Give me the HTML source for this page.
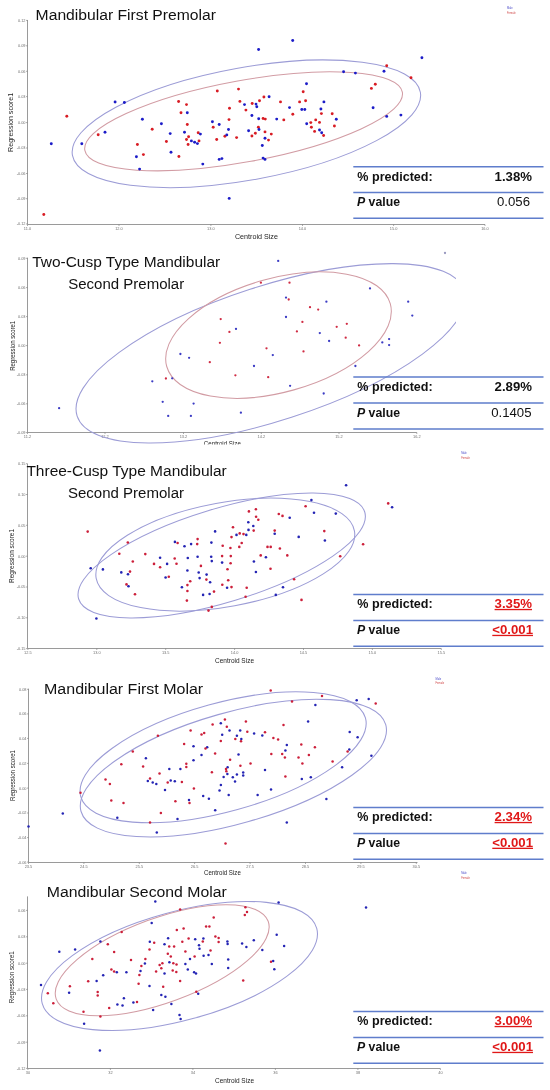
<!DOCTYPE html>
<html><head><meta charset="utf-8"><title>Regression plots</title>
<style>html,body{margin:0;padding:0;background:#fff;}body{width:550px;height:1090px;overflow:hidden;}svg{display:block;}</style>
</head><body>
<svg width="550" height="1090" viewBox="0 0 550 1090" font-family="'Liberation Sans', Arial, sans-serif">
<path d="M27.5 20V224.5M27.5 224.5H485" stroke="#9a9a9a" stroke-width="1" fill="none"/>
<path d="M26.0 20.4h1.5M26.0 45.8h1.5M26.0 71.3h1.5M26.0 96.6h1.5M26.0 122.6h1.5M26.0 148h1.5M26.0 173.5h1.5M26.0 198.7h1.5M26.0 224h1.5M27.5 224.5v1.5M119 224.5v1.5M210.9 224.5v1.5M302.5 224.5v1.5M393.6 224.5v1.5M485 224.5v1.5" stroke="#777" stroke-width="0.6" fill="none"/>
<text x="25.5" y="21.8" font-size="3.9" fill="#707070" text-anchor="end">0.12</text>
<text x="25.5" y="47.2" font-size="3.9" fill="#707070" text-anchor="end">0.09</text>
<text x="25.5" y="72.7" font-size="3.9" fill="#707070" text-anchor="end">0.06</text>
<text x="25.5" y="98.0" font-size="3.9" fill="#707070" text-anchor="end">0.03</text>
<text x="25.5" y="124.0" font-size="3.9" fill="#707070" text-anchor="end">0.00</text>
<text x="25.5" y="149.4" font-size="3.9" fill="#707070" text-anchor="end">-0.03</text>
<text x="25.5" y="174.9" font-size="3.9" fill="#707070" text-anchor="end">-0.06</text>
<text x="25.5" y="200.1" font-size="3.9" fill="#707070" text-anchor="end">-0.09</text>
<text x="25.5" y="225.4" font-size="3.9" fill="#707070" text-anchor="end">-0.12</text>
<text x="27.5" y="230.1" font-size="3.9" fill="#707070" text-anchor="middle">11.0</text>
<text x="119.0" y="230.1" font-size="3.9" fill="#707070" text-anchor="middle">12.0</text>
<text x="210.9" y="230.1" font-size="3.9" fill="#707070" text-anchor="middle">13.0</text>
<text x="302.5" y="230.1" font-size="3.9" fill="#707070" text-anchor="middle">14.0</text>
<text x="393.6" y="230.1" font-size="3.9" fill="#707070" text-anchor="middle">15.0</text>
<text x="485.0" y="230.1" font-size="3.9" fill="#707070" text-anchor="middle">16.0</text>
<text x="0" y="0" font-size="8" fill="#222" text-anchor="middle" textLength="59" lengthAdjust="spacingAndGlyphs" transform="translate(12.8 122.4) rotate(-90)">Regression score1</text>
<text x="234.9" y="239.4" font-size="7" fill="#222" textLength="43.0" lengthAdjust="spacingAndGlyphs">Centroid Size</text>
<text x="507.0" y="9.0" font-size="2.6" fill="#4848c8">Male</text>
<text x="507.0" y="13.9" font-size="2.6" fill="#d04848">Female</text>
<ellipse cx="246.4" cy="123.8" rx="176.8" ry="56.3" transform="rotate(-10.28 246.4 123.8)" stroke="#9c9cd6" stroke-width="1.05" fill="none"/>
<ellipse cx="243.6" cy="121.3" rx="161.4" ry="40.7" transform="rotate(-10.39 243.6 121.3)" stroke="#d29ca4" stroke-width="1.05" fill="none"/>
<circle cx="115.1" cy="102.0" r="1.45" fill="#1c1cc8"/>
<circle cx="124.4" cy="102.5" r="1.45" fill="#1c1cc8"/>
<circle cx="66.8" cy="116.2" r="1.45" fill="#d81c24"/>
<circle cx="142.4" cy="119.2" r="1.45" fill="#1c1cc8"/>
<circle cx="161.4" cy="123.8" r="1.45" fill="#1c1cc8"/>
<circle cx="178.6" cy="101.5" r="1.45" fill="#d81c24"/>
<circle cx="98.2" cy="134.7" r="1.45" fill="#d81c24"/>
<circle cx="105.0" cy="132.3" r="1.45" fill="#1c1cc8"/>
<circle cx="152.2" cy="129.3" r="1.45" fill="#d81c24"/>
<circle cx="170.2" cy="133.6" r="1.45" fill="#1c1cc8"/>
<circle cx="51.3" cy="143.7" r="1.45" fill="#1c1cc8"/>
<circle cx="81.8" cy="143.7" r="1.45" fill="#1c1cc8"/>
<circle cx="166.4" cy="141.5" r="1.45" fill="#d81c24"/>
<circle cx="137.4" cy="144.5" r="1.45" fill="#d81c24"/>
<circle cx="136.4" cy="156.8" r="1.45" fill="#1c1cc8"/>
<circle cx="143.4" cy="154.6" r="1.45" fill="#d81c24"/>
<circle cx="171.0" cy="152.2" r="1.45" fill="#1c1cc8"/>
<circle cx="178.9" cy="156.5" r="1.45" fill="#d81c24"/>
<circle cx="139.6" cy="169.1" r="1.45" fill="#1c1cc8"/>
<circle cx="43.8" cy="214.5" r="1.45" fill="#d81c24"/>
<circle cx="217.3" cy="91.0" r="1.45" fill="#d81c24"/>
<circle cx="238.5" cy="89.1" r="1.45" fill="#d81c24"/>
<circle cx="303.2" cy="91.8" r="1.45" fill="#d81c24"/>
<circle cx="186.5" cy="104.6" r="1.45" fill="#d81c24"/>
<circle cx="187.3" cy="112.8" r="1.45" fill="#1c1cc8"/>
<circle cx="181.0" cy="112.8" r="1.45" fill="#d81c24"/>
<circle cx="187.3" cy="124.5" r="1.45" fill="#d81c24"/>
<circle cx="184.5" cy="132.2" r="1.45" fill="#1c1cc8"/>
<circle cx="188.6" cy="136.8" r="1.45" fill="#d81c24"/>
<circle cx="198.2" cy="132.7" r="1.45" fill="#d81c24"/>
<circle cx="200.4" cy="134.1" r="1.45" fill="#1c1cc8"/>
<circle cx="186.5" cy="139.5" r="1.45" fill="#d81c24"/>
<circle cx="191.4" cy="140.9" r="1.45" fill="#1c1cc8"/>
<circle cx="194.6" cy="142.3" r="1.45" fill="#1c1cc8"/>
<circle cx="197.4" cy="143.6" r="1.45" fill="#1c1cc8"/>
<circle cx="199.0" cy="140.9" r="1.45" fill="#d81c24"/>
<circle cx="188.1" cy="144.5" r="1.45" fill="#d81c24"/>
<circle cx="202.8" cy="164.1" r="1.45" fill="#1c1cc8"/>
<circle cx="212.4" cy="121.8" r="1.45" fill="#1c1cc8"/>
<circle cx="219.2" cy="124.5" r="1.45" fill="#1c1cc8"/>
<circle cx="213.2" cy="127.3" r="1.45" fill="#d81c24"/>
<circle cx="229.5" cy="108.2" r="1.45" fill="#d81c24"/>
<circle cx="239.9" cy="101.4" r="1.45" fill="#d81c24"/>
<circle cx="244.5" cy="104.6" r="1.45" fill="#1c1cc8"/>
<circle cx="229.0" cy="119.6" r="1.45" fill="#d81c24"/>
<circle cx="228.5" cy="129.5" r="1.45" fill="#1c1cc8"/>
<circle cx="224.9" cy="136.3" r="1.45" fill="#d81c24"/>
<circle cx="226.8" cy="134.9" r="1.45" fill="#1c1cc8"/>
<circle cx="216.7" cy="139.5" r="1.45" fill="#d81c24"/>
<circle cx="236.6" cy="137.6" r="1.45" fill="#d81c24"/>
<circle cx="219.2" cy="159.4" r="1.45" fill="#1c1cc8"/>
<circle cx="221.9" cy="158.6" r="1.45" fill="#1c1cc8"/>
<circle cx="245.9" cy="110.1" r="1.45" fill="#d81c24"/>
<circle cx="252.2" cy="103.5" r="1.45" fill="#d81c24"/>
<circle cx="256.0" cy="104.1" r="1.45" fill="#1c1cc8"/>
<circle cx="256.8" cy="106.8" r="1.45" fill="#1c1cc8"/>
<circle cx="259.5" cy="100.8" r="1.45" fill="#d81c24"/>
<circle cx="263.9" cy="97.0" r="1.45" fill="#d81c24"/>
<circle cx="269.1" cy="96.7" r="1.45" fill="#1c1cc8"/>
<circle cx="251.9" cy="115.5" r="1.45" fill="#1c1cc8"/>
<circle cx="258.7" cy="118.8" r="1.45" fill="#1c1cc8"/>
<circle cx="263.1" cy="118.5" r="1.45" fill="#d81c24"/>
<circle cx="265.3" cy="119.1" r="1.45" fill="#d81c24"/>
<circle cx="276.7" cy="119.1" r="1.45" fill="#1c1cc8"/>
<circle cx="280.5" cy="101.9" r="1.45" fill="#d81c24"/>
<circle cx="289.5" cy="107.6" r="1.45" fill="#1c1cc8"/>
<circle cx="292.8" cy="114.2" r="1.45" fill="#d81c24"/>
<circle cx="283.8" cy="119.9" r="1.45" fill="#d81c24"/>
<circle cx="299.6" cy="101.9" r="1.45" fill="#d81c24"/>
<circle cx="305.6" cy="100.8" r="1.45" fill="#d81c24"/>
<circle cx="301.8" cy="109.5" r="1.45" fill="#1c1cc8"/>
<circle cx="304.8" cy="109.5" r="1.45" fill="#1c1cc8"/>
<circle cx="248.6" cy="130.8" r="1.45" fill="#1c1cc8"/>
<circle cx="258.4" cy="127.3" r="1.45" fill="#d81c24"/>
<circle cx="259.0" cy="129.5" r="1.45" fill="#1c1cc8"/>
<circle cx="251.9" cy="136.0" r="1.45" fill="#d81c24"/>
<circle cx="255.4" cy="133.3" r="1.45" fill="#d81c24"/>
<circle cx="265.0" cy="131.9" r="1.45" fill="#d81c24"/>
<circle cx="271.3" cy="134.1" r="1.45" fill="#d81c24"/>
<circle cx="265.0" cy="138.2" r="1.45" fill="#1c1cc8"/>
<circle cx="268.5" cy="140.1" r="1.45" fill="#d81c24"/>
<circle cx="262.3" cy="145.5" r="1.45" fill="#1c1cc8"/>
<circle cx="263.1" cy="158.1" r="1.45" fill="#1c1cc8"/>
<circle cx="265.0" cy="159.4" r="1.45" fill="#1c1cc8"/>
<circle cx="306.7" cy="123.7" r="1.45" fill="#1c1cc8"/>
<circle cx="310.8" cy="122.6" r="1.45" fill="#d81c24"/>
<circle cx="311.4" cy="127.3" r="1.45" fill="#d81c24"/>
<circle cx="315.7" cy="119.9" r="1.45" fill="#d81c24"/>
<circle cx="319.5" cy="122.4" r="1.45" fill="#d81c24"/>
<circle cx="320.9" cy="109.0" r="1.45" fill="#1c1cc8"/>
<circle cx="321.4" cy="113.6" r="1.45" fill="#d81c24"/>
<circle cx="323.9" cy="101.9" r="1.45" fill="#1c1cc8"/>
<circle cx="319.5" cy="130.0" r="1.45" fill="#1c1cc8"/>
<circle cx="314.6" cy="131.4" r="1.45" fill="#d81c24"/>
<circle cx="321.7" cy="132.7" r="1.45" fill="#1c1cc8"/>
<circle cx="323.6" cy="135.5" r="1.45" fill="#d81c24"/>
<circle cx="421.9" cy="57.8" r="1.45" fill="#1c1cc8"/>
<circle cx="386.7" cy="65.7" r="1.45" fill="#d81c24"/>
<circle cx="384.0" cy="71.2" r="1.45" fill="#1c1cc8"/>
<circle cx="411.0" cy="77.7" r="1.45" fill="#d81c24"/>
<circle cx="343.6" cy="71.7" r="1.45" fill="#1c1cc8"/>
<circle cx="355.4" cy="73.1" r="1.45" fill="#1c1cc8"/>
<circle cx="375.3" cy="84.3" r="1.45" fill="#d81c24"/>
<circle cx="371.4" cy="88.4" r="1.45" fill="#d81c24"/>
<circle cx="373.1" cy="107.7" r="1.45" fill="#1c1cc8"/>
<circle cx="386.7" cy="116.4" r="1.45" fill="#1c1cc8"/>
<circle cx="400.9" cy="115.1" r="1.45" fill="#1c1cc8"/>
<circle cx="306.5" cy="83.7" r="1.45" fill="#1c1cc8"/>
<circle cx="332.2" cy="113.7" r="1.45" fill="#d81c24"/>
<circle cx="336.3" cy="119.2" r="1.45" fill="#1c1cc8"/>
<circle cx="334.4" cy="126.0" r="1.45" fill="#d81c24"/>
<circle cx="258.6" cy="49.5" r="1.45" fill="#1c1cc8"/>
<circle cx="292.7" cy="40.5" r="1.45" fill="#1c1cc8"/>
<circle cx="229.2" cy="198.4" r="1.45" fill="#1c1cc8"/>
<text x="35.6" y="19.5" font-size="15.5" fill="#111" textLength="180.4" lengthAdjust="spacingAndGlyphs">Mandibular First Premolar</text>
<path d="M353.3 166.7H543.5M353.3 192.4H543.5M353.3 218.2H543.5" stroke="#5f7dcc" stroke-width="1.5" fill="none"/>
<text x="357.3" y="180.5" font-size="13.2" fill="#111" font-weight="bold" textLength="75.4" lengthAdjust="spacingAndGlyphs">% predicted:</text>
<text x="357" y="206.2" font-size="13.2" fill="#111" font-weight="bold" textLength="43" lengthAdjust="spacingAndGlyphs"><tspan font-style="italic">P</tspan> value</text>
<text x="532.0" y="180.5" font-size="13.2" fill="#111" font-weight="bold" text-anchor="end">1.38%</text>
<text x="530.0" y="206.2" font-size="13.2" fill="#111" text-anchor="end">0.056</text>
<clipPath id="c1"><rect x="0" y="245" width="456" height="199.5"/></clipPath>
<g clip-path="url(#c1)">
<path d="M27.5 257.7V432.5M27.5 432.5H416.8" stroke="#9a9a9a" stroke-width="1" fill="none"/>
<path d="M26.0 258.3h1.5M26.0 287.6h1.5M26.0 316.6h1.5M26.0 345.6h1.5M26.0 374.8h1.5M26.0 403.8h1.5M26.0 432.6h1.5M27.5 432.5v1.5M105 432.5v1.5M183.5 432.5v1.5M261.3 432.5v1.5M339 432.5v1.5M416.8 432.5v1.5" stroke="#777" stroke-width="0.6" fill="none"/>
<text x="25.5" y="259.7" font-size="3.9" fill="#707070" text-anchor="end">0.09</text>
<text x="25.5" y="289.0" font-size="3.9" fill="#707070" text-anchor="end">0.06</text>
<text x="25.5" y="318.0" font-size="3.9" fill="#707070" text-anchor="end">0.03</text>
<text x="25.5" y="347.0" font-size="3.9" fill="#707070" text-anchor="end">0.00</text>
<text x="25.5" y="376.2" font-size="3.9" fill="#707070" text-anchor="end">-0.03</text>
<text x="25.5" y="405.2" font-size="3.9" fill="#707070" text-anchor="end">-0.06</text>
<text x="25.5" y="434.0" font-size="3.9" fill="#707070" text-anchor="end">-0.09</text>
<text x="27.5" y="438.1" font-size="3.9" fill="#707070" text-anchor="middle">11.2</text>
<text x="105.0" y="438.1" font-size="3.9" fill="#707070" text-anchor="middle">12.2</text>
<text x="183.5" y="438.1" font-size="3.9" fill="#707070" text-anchor="middle">13.2</text>
<text x="261.3" y="438.1" font-size="3.9" fill="#707070" text-anchor="middle">14.2</text>
<text x="339.0" y="438.1" font-size="3.9" fill="#707070" text-anchor="middle">15.2</text>
<text x="416.8" y="438.1" font-size="3.9" fill="#707070" text-anchor="middle">16.2</text>
<text x="0" y="0" font-size="7" fill="#222" text-anchor="middle" textLength="50" lengthAdjust="spacingAndGlyphs" transform="translate(14.5 345.8) rotate(-90)">Regression score1</text>
<text x="203.8" y="446.2" font-size="7" fill="#222" textLength="37.1" lengthAdjust="spacingAndGlyphs">Centroid Size</text>
<ellipse cx="270.8" cy="353.3" rx="203.6" ry="67.3" transform="rotate(-17.97 270.8 353.3)" stroke="#9c9cd6" stroke-width="1.05" fill="none"/>
<ellipse cx="278.5" cy="335.1" rx="116.1" ry="56.9" transform="rotate(-15.70 278.5 335.1)" stroke="#d29ca4" stroke-width="1.05" fill="none"/>
<circle cx="220.7" cy="319.1" r="1.15" fill="#d02c44"/>
<circle cx="236.0" cy="328.9" r="1.15" fill="#3c3cc4"/>
<circle cx="229.4" cy="331.9" r="1.15" fill="#d02c44"/>
<circle cx="219.9" cy="342.8" r="1.15" fill="#d02c44"/>
<circle cx="180.4" cy="354.0" r="1.15" fill="#3c3cc4"/>
<circle cx="189.1" cy="357.8" r="1.15" fill="#3c3cc4"/>
<circle cx="209.8" cy="362.2" r="1.15" fill="#d02c44"/>
<circle cx="266.5" cy="348.3" r="1.15" fill="#d02c44"/>
<circle cx="272.8" cy="355.1" r="1.15" fill="#3c3cc4"/>
<circle cx="254.0" cy="366.0" r="1.15" fill="#3c3cc4"/>
<circle cx="235.4" cy="375.3" r="1.15" fill="#d02c44"/>
<circle cx="268.2" cy="377.2" r="1.15" fill="#d02c44"/>
<circle cx="152.3" cy="381.3" r="1.15" fill="#3c3cc4"/>
<circle cx="165.9" cy="378.5" r="1.15" fill="#d02c44"/>
<circle cx="172.2" cy="378.3" r="1.15" fill="#3c3cc4"/>
<circle cx="59.1" cy="408.2" r="1.15" fill="#3c3cc4"/>
<circle cx="162.7" cy="401.8" r="1.15" fill="#3c3cc4"/>
<circle cx="193.6" cy="403.6" r="1.15" fill="#3c3cc4"/>
<circle cx="168.2" cy="415.9" r="1.15" fill="#3c3cc4"/>
<circle cx="190.9" cy="415.9" r="1.15" fill="#3c3cc4"/>
<circle cx="240.9" cy="412.7" r="1.15" fill="#3c3cc4"/>
<circle cx="289.5" cy="282.7" r="1.15" fill="#d02c44"/>
<circle cx="286.0" cy="297.6" r="1.15" fill="#3c3cc4"/>
<circle cx="288.7" cy="299.5" r="1.15" fill="#d02c44"/>
<circle cx="370.0" cy="288.4" r="1.15" fill="#3c3cc4"/>
<circle cx="326.4" cy="301.7" r="1.15" fill="#3c3cc4"/>
<circle cx="310.0" cy="307.2" r="1.15" fill="#d02c44"/>
<circle cx="318.2" cy="309.6" r="1.15" fill="#d02c44"/>
<circle cx="286.0" cy="317.0" r="1.15" fill="#3c3cc4"/>
<circle cx="302.4" cy="321.9" r="1.15" fill="#d02c44"/>
<circle cx="296.9" cy="331.4" r="1.15" fill="#d02c44"/>
<circle cx="336.7" cy="326.8" r="1.15" fill="#d02c44"/>
<circle cx="346.8" cy="323.8" r="1.15" fill="#d02c44"/>
<circle cx="319.8" cy="333.1" r="1.15" fill="#3c3cc4"/>
<circle cx="329.1" cy="341.0" r="1.15" fill="#3c3cc4"/>
<circle cx="345.7" cy="337.7" r="1.15" fill="#d02c44"/>
<circle cx="359.1" cy="345.4" r="1.15" fill="#d02c44"/>
<circle cx="303.5" cy="351.4" r="1.15" fill="#d02c44"/>
<circle cx="408.2" cy="301.7" r="1.15" fill="#3c3cc4"/>
<circle cx="412.3" cy="315.6" r="1.15" fill="#3c3cc4"/>
<circle cx="382.3" cy="342.4" r="1.15" fill="#3c3cc4"/>
<circle cx="389.1" cy="339.1" r="1.15" fill="#3c3cc4"/>
<circle cx="389.1" cy="345.1" r="1.15" fill="#3c3cc4"/>
<circle cx="278.2" cy="260.9" r="1.15" fill="#3c3cc4"/>
<circle cx="260.9" cy="282.7" r="1.15" fill="#d02c44"/>
<circle cx="355.4" cy="366.0" r="1.15" fill="#3c3cc4"/>
<circle cx="290.1" cy="385.8" r="1.15" fill="#3c3cc4"/>
<circle cx="323.7" cy="393.5" r="1.15" fill="#3c3cc4"/>
<circle cx="445.0" cy="253.0" r="1.15" fill="#9a9ac0"/>
</g>
<text x="32.2" y="266.6" font-size="15.5" fill="#111" textLength="188.0" lengthAdjust="spacingAndGlyphs">Two-Cusp Type Mandibular</text>
<text x="68.2" y="288.5" font-size="15.5" fill="#111" textLength="116.0" lengthAdjust="spacingAndGlyphs">Second Premolar</text>
<path d="M353.3 377H543.5M353.3 403H543.5M353.3 429H543.5" stroke="#5f7dcc" stroke-width="1.5" fill="none"/>
<text x="357.3" y="390.7" font-size="13.2" fill="#111" font-weight="bold" textLength="75.4" lengthAdjust="spacingAndGlyphs">% predicted:</text>
<text x="357" y="416.7" font-size="13.2" fill="#111" font-weight="bold" textLength="43" lengthAdjust="spacingAndGlyphs"><tspan font-style="italic">P</tspan> value</text>
<text x="532.0" y="390.7" font-size="13.2" fill="#111" font-weight="bold" text-anchor="end">2.89%</text>
<text x="531.5" y="416.7" font-size="13.2" fill="#111" text-anchor="end">0.1405</text>
<path d="M27.5 463.7V648.5M27.5 648.5H441.3" stroke="#9a9a9a" stroke-width="1" fill="none"/>
<path d="M26.0 463.7h1.5M26.0 494.5h1.5M26.0 525.3h1.5M26.0 556.2h1.5M26.0 587h1.5M26.0 617.8h1.5M26.0 648.6h1.5M27.9 648.5v1.5M96.8 648.5v1.5M165.7 648.5v1.5M234.6 648.5v1.5M303.5 648.5v1.5M372.4 648.5v1.5M441.3 648.5v1.5" stroke="#777" stroke-width="0.6" fill="none"/>
<text x="25.5" y="465.1" font-size="3.9" fill="#707070" text-anchor="end">0.15</text>
<text x="25.5" y="495.9" font-size="3.9" fill="#707070" text-anchor="end">0.10</text>
<text x="25.5" y="526.7" font-size="3.9" fill="#707070" text-anchor="end">0.05</text>
<text x="25.5" y="557.6" font-size="3.9" fill="#707070" text-anchor="end">0.00</text>
<text x="25.5" y="588.4" font-size="3.9" fill="#707070" text-anchor="end">-0.05</text>
<text x="25.5" y="619.2" font-size="3.9" fill="#707070" text-anchor="end">-0.10</text>
<text x="25.5" y="650.0" font-size="3.9" fill="#707070" text-anchor="end">-0.15</text>
<text x="27.9" y="654.1" font-size="3.9" fill="#707070" text-anchor="middle">12.5</text>
<text x="96.8" y="654.1" font-size="3.9" fill="#707070" text-anchor="middle">13.0</text>
<text x="165.7" y="654.1" font-size="3.9" fill="#707070" text-anchor="middle">13.5</text>
<text x="234.6" y="654.1" font-size="3.9" fill="#707070" text-anchor="middle">14.0</text>
<text x="303.5" y="654.1" font-size="3.9" fill="#707070" text-anchor="middle">14.5</text>
<text x="372.4" y="654.1" font-size="3.9" fill="#707070" text-anchor="middle">15.0</text>
<text x="441.3" y="654.1" font-size="3.9" fill="#707070" text-anchor="middle">15.5</text>
<text x="0" y="0" font-size="7.5" fill="#222" text-anchor="middle" textLength="54" lengthAdjust="spacingAndGlyphs" transform="translate(13.8 556) rotate(-90)">Regression score1</text>
<text x="215.0" y="662.5" font-size="7" fill="#222" textLength="39.0" lengthAdjust="spacingAndGlyphs">Centroid Size</text>
<text x="461.2" y="454.0" font-size="2.6" fill="#4848c8">Male</text>
<text x="461.2" y="458.9" font-size="2.6" fill="#d04848">Female</text>
<ellipse cx="221.7" cy="555.5" rx="149.5" ry="46.8" transform="rotate(-16.91 221.7 555.5)" stroke="#9c9cd6" stroke-width="1.05" fill="none"/>
<ellipse cx="225.3" cy="554.6" rx="131.3" ry="52.0" transform="rotate(-10.45 225.3 554.6)" stroke="#9c9cd6" stroke-width="1.05" fill="none"/>
<circle cx="87.7" cy="531.6" r="1.3" fill="#cc1f3a"/>
<circle cx="127.8" cy="542.5" r="1.3" fill="#cc1f3a"/>
<circle cx="119.3" cy="553.7" r="1.3" fill="#cc1f3a"/>
<circle cx="145.3" cy="554.1" r="1.3" fill="#cc1f3a"/>
<circle cx="132.8" cy="561.5" r="1.3" fill="#cc1f3a"/>
<circle cx="90.7" cy="568.3" r="1.3" fill="#2424b4"/>
<circle cx="102.9" cy="569.4" r="1.3" fill="#2424b4"/>
<circle cx="121.3" cy="572.4" r="1.3" fill="#2424b4"/>
<circle cx="130.0" cy="571.6" r="1.3" fill="#cc1f3a"/>
<circle cx="128.0" cy="574.2" r="1.3" fill="#2424b4"/>
<circle cx="174.9" cy="541.9" r="1.3" fill="#2424b4"/>
<circle cx="177.6" cy="543.0" r="1.3" fill="#cc1f3a"/>
<circle cx="184.5" cy="546.3" r="1.3" fill="#2424b4"/>
<circle cx="191.1" cy="544.1" r="1.3" fill="#2424b4"/>
<circle cx="160.1" cy="557.8" r="1.3" fill="#2424b4"/>
<circle cx="154.0" cy="563.9" r="1.3" fill="#cc1f3a"/>
<circle cx="167.1" cy="563.9" r="1.3" fill="#2424b4"/>
<circle cx="174.7" cy="558.5" r="1.3" fill="#cc1f3a"/>
<circle cx="176.5" cy="563.7" r="1.3" fill="#cc1f3a"/>
<circle cx="187.8" cy="558.0" r="1.3" fill="#2424b4"/>
<circle cx="160.1" cy="567.2" r="1.3" fill="#cc1f3a"/>
<circle cx="187.4" cy="570.5" r="1.3" fill="#2424b4"/>
<circle cx="165.6" cy="577.5" r="1.3" fill="#2424b4"/>
<circle cx="168.8" cy="576.8" r="1.3" fill="#cc1f3a"/>
<circle cx="248.9" cy="511.4" r="1.3" fill="#cc1f3a"/>
<circle cx="255.9" cy="509.2" r="1.3" fill="#cc1f3a"/>
<circle cx="256.1" cy="516.8" r="1.3" fill="#cc1f3a"/>
<circle cx="258.3" cy="519.7" r="1.3" fill="#cc1f3a"/>
<circle cx="248.3" cy="522.3" r="1.3" fill="#2424b4"/>
<circle cx="253.3" cy="526.0" r="1.3" fill="#2424b4"/>
<circle cx="233.0" cy="527.3" r="1.3" fill="#cc1f3a"/>
<circle cx="215.1" cy="531.4" r="1.3" fill="#2424b4"/>
<circle cx="248.5" cy="529.9" r="1.3" fill="#2424b4"/>
<circle cx="253.7" cy="530.6" r="1.3" fill="#cc1f3a"/>
<circle cx="236.5" cy="534.9" r="1.3" fill="#2424b4"/>
<circle cx="239.7" cy="533.4" r="1.3" fill="#cc1f3a"/>
<circle cx="243.5" cy="534.1" r="1.3" fill="#cc1f3a"/>
<circle cx="246.3" cy="534.9" r="1.3" fill="#2424b4"/>
<circle cx="231.5" cy="537.1" r="1.3" fill="#cc1f3a"/>
<circle cx="197.6" cy="539.1" r="1.3" fill="#cc1f3a"/>
<circle cx="197.2" cy="544.1" r="1.3" fill="#cc1f3a"/>
<circle cx="211.4" cy="542.6" r="1.3" fill="#2424b4"/>
<circle cx="222.7" cy="545.8" r="1.3" fill="#cc1f3a"/>
<circle cx="241.7" cy="543.0" r="1.3" fill="#cc1f3a"/>
<circle cx="239.3" cy="546.9" r="1.3" fill="#cc1f3a"/>
<circle cx="230.4" cy="548.0" r="1.3" fill="#cc1f3a"/>
<circle cx="267.5" cy="546.9" r="1.3" fill="#cc1f3a"/>
<circle cx="270.7" cy="546.9" r="1.3" fill="#cc1f3a"/>
<circle cx="279.9" cy="548.5" r="1.3" fill="#cc1f3a"/>
<circle cx="274.7" cy="530.6" r="1.3" fill="#cc1f3a"/>
<circle cx="274.7" cy="533.8" r="1.3" fill="#2424b4"/>
<circle cx="278.8" cy="514.0" r="1.3" fill="#cc1f3a"/>
<circle cx="282.5" cy="515.9" r="1.3" fill="#cc1f3a"/>
<circle cx="289.7" cy="517.7" r="1.3" fill="#2424b4"/>
<circle cx="305.6" cy="506.3" r="1.3" fill="#cc1f3a"/>
<circle cx="298.7" cy="536.9" r="1.3" fill="#2424b4"/>
<circle cx="287.3" cy="555.4" r="1.3" fill="#cc1f3a"/>
<circle cx="260.7" cy="555.4" r="1.3" fill="#cc1f3a"/>
<circle cx="265.9" cy="557.2" r="1.3" fill="#2424b4"/>
<circle cx="222.1" cy="556.1" r="1.3" fill="#cc1f3a"/>
<circle cx="230.8" cy="556.1" r="1.3" fill="#cc1f3a"/>
<circle cx="197.6" cy="556.8" r="1.3" fill="#2424b4"/>
<circle cx="211.2" cy="556.8" r="1.3" fill="#2424b4"/>
<circle cx="211.8" cy="561.1" r="1.3" fill="#2424b4"/>
<circle cx="222.1" cy="562.6" r="1.3" fill="#2424b4"/>
<circle cx="230.6" cy="563.3" r="1.3" fill="#cc1f3a"/>
<circle cx="200.9" cy="565.9" r="1.3" fill="#cc1f3a"/>
<circle cx="253.9" cy="561.5" r="1.3" fill="#2424b4"/>
<circle cx="227.5" cy="569.2" r="1.3" fill="#cc1f3a"/>
<circle cx="270.5" cy="568.8" r="1.3" fill="#cc1f3a"/>
<circle cx="198.7" cy="572.5" r="1.3" fill="#2424b4"/>
<circle cx="206.6" cy="574.6" r="1.3" fill="#2424b4"/>
<circle cx="255.9" cy="572.0" r="1.3" fill="#2424b4"/>
<circle cx="126.5" cy="584.4" r="1.3" fill="#cc1f3a"/>
<circle cx="128.5" cy="586.2" r="1.3" fill="#2424b4"/>
<circle cx="135.0" cy="594.3" r="1.3" fill="#cc1f3a"/>
<circle cx="190.2" cy="581.2" r="1.3" fill="#cc1f3a"/>
<circle cx="187.4" cy="585.1" r="1.3" fill="#cc1f3a"/>
<circle cx="181.9" cy="587.3" r="1.3" fill="#2424b4"/>
<circle cx="187.4" cy="591.0" r="1.3" fill="#cc1f3a"/>
<circle cx="186.9" cy="600.6" r="1.3" fill="#cc1f3a"/>
<circle cx="96.4" cy="618.5" r="1.3" fill="#2424b4"/>
<circle cx="199.6" cy="578.1" r="1.3" fill="#2424b4"/>
<circle cx="206.4" cy="579.6" r="1.3" fill="#cc1f3a"/>
<circle cx="210.1" cy="582.3" r="1.3" fill="#2424b4"/>
<circle cx="228.2" cy="580.3" r="1.3" fill="#cc1f3a"/>
<circle cx="222.3" cy="584.7" r="1.3" fill="#cc1f3a"/>
<circle cx="227.1" cy="587.7" r="1.3" fill="#2424b4"/>
<circle cx="231.5" cy="587.1" r="1.3" fill="#cc1f3a"/>
<circle cx="214.0" cy="591.6" r="1.3" fill="#cc1f3a"/>
<circle cx="209.6" cy="594.0" r="1.3" fill="#2424b4"/>
<circle cx="203.1" cy="594.9" r="1.3" fill="#2424b4"/>
<circle cx="246.7" cy="587.7" r="1.3" fill="#cc1f3a"/>
<circle cx="245.6" cy="596.7" r="1.3" fill="#cc1f3a"/>
<circle cx="294.1" cy="579.2" r="1.3" fill="#cc1f3a"/>
<circle cx="283.0" cy="587.3" r="1.3" fill="#2424b4"/>
<circle cx="275.8" cy="594.9" r="1.3" fill="#2424b4"/>
<circle cx="301.5" cy="599.9" r="1.3" fill="#cc1f3a"/>
<circle cx="211.8" cy="606.9" r="1.3" fill="#cc1f3a"/>
<circle cx="208.5" cy="610.6" r="1.3" fill="#cc1f3a"/>
<circle cx="346.1" cy="485.3" r="1.3" fill="#2424b4"/>
<circle cx="311.4" cy="500.1" r="1.3" fill="#2424b4"/>
<circle cx="314.0" cy="512.7" r="1.3" fill="#2424b4"/>
<circle cx="335.8" cy="513.6" r="1.3" fill="#2424b4"/>
<circle cx="388.2" cy="503.4" r="1.3" fill="#cc1f3a"/>
<circle cx="392.1" cy="507.3" r="1.3" fill="#2424b4"/>
<circle cx="324.3" cy="531.1" r="1.3" fill="#cc1f3a"/>
<circle cx="324.9" cy="540.5" r="1.3" fill="#2424b4"/>
<circle cx="363.1" cy="544.2" r="1.3" fill="#cc1f3a"/>
<circle cx="340.2" cy="556.2" r="1.3" fill="#cc1f3a"/>
<text x="26.4" y="475.7" font-size="15.5" fill="#111" textLength="200.4" lengthAdjust="spacingAndGlyphs">Three-Cusp Type Mandibular</text>
<text x="68.0" y="498.2" font-size="15.5" fill="#111" textLength="116.0" lengthAdjust="spacingAndGlyphs">Second Premolar</text>
<path d="M353.3 594.4H543.5M353.3 620.4H543.5M353.3 646.2H543.5" stroke="#5f7dcc" stroke-width="1.5" fill="none"/>
<text x="357.3" y="607.9" font-size="13.2" fill="#111" font-weight="bold" textLength="75.4" lengthAdjust="spacingAndGlyphs">% predicted:</text>
<text x="357" y="633.8" font-size="13.2" fill="#111" font-weight="bold" textLength="43" lengthAdjust="spacingAndGlyphs"><tspan font-style="italic">P</tspan> value</text>
<text x="532.0" y="607.9" font-size="13.2" fill="#e01818" font-weight="bold" text-anchor="end" text-decoration="underline">3.35%</text>
<text x="533.0" y="633.8" font-size="13.2" fill="#e01818" font-weight="bold" text-anchor="end" text-decoration="underline">&lt;0.001</text>
<path d="M28.5 688.7V862.5M28.5 862.5H417.5" stroke="#9a9a9a" stroke-width="1" fill="none"/>
<path d="M27.0 689.3h1.5M27.0 713.9h1.5M27.0 738.4h1.5M27.0 763.4h1.5M27.0 788.1h1.5M27.0 813h1.5M27.0 837.6h1.5M27.0 862.1h1.5M28.5 862.5v1.5M83.9 862.5v1.5M139.3 862.5v1.5M194.6 862.5v1.5M250.1 862.5v1.5M305.5 862.5v1.5M360.9 862.5v1.5M416.3 862.5v1.5" stroke="#777" stroke-width="0.6" fill="none"/>
<text x="26.5" y="690.7" font-size="3.9" fill="#707070" text-anchor="end">0.08</text>
<text x="26.5" y="715.3" font-size="3.9" fill="#707070" text-anchor="end">0.06</text>
<text x="26.5" y="739.8" font-size="3.9" fill="#707070" text-anchor="end">0.04</text>
<text x="26.5" y="764.8" font-size="3.9" fill="#707070" text-anchor="end">0.02</text>
<text x="26.5" y="789.5" font-size="3.9" fill="#707070" text-anchor="end">0.00</text>
<text x="26.5" y="814.4" font-size="3.9" fill="#707070" text-anchor="end">-0.02</text>
<text x="26.5" y="839.0" font-size="3.9" fill="#707070" text-anchor="end">-0.04</text>
<text x="26.5" y="863.5" font-size="3.9" fill="#707070" text-anchor="end">-0.06</text>
<text x="28.5" y="868.1" font-size="3.9" fill="#707070" text-anchor="middle">23.5</text>
<text x="83.9" y="868.1" font-size="3.9" fill="#707070" text-anchor="middle">24.5</text>
<text x="139.3" y="868.1" font-size="3.9" fill="#707070" text-anchor="middle">25.5</text>
<text x="194.6" y="868.1" font-size="3.9" fill="#707070" text-anchor="middle">26.5</text>
<text x="250.1" y="868.1" font-size="3.9" fill="#707070" text-anchor="middle">27.5</text>
<text x="305.5" y="868.1" font-size="3.9" fill="#707070" text-anchor="middle">28.5</text>
<text x="360.9" y="868.1" font-size="3.9" fill="#707070" text-anchor="middle">29.5</text>
<text x="416.3" y="868.1" font-size="3.9" fill="#707070" text-anchor="middle">30.5</text>
<text x="0" y="0" font-size="7" fill="#222" text-anchor="middle" textLength="51" lengthAdjust="spacingAndGlyphs" transform="translate(14.5 775.5) rotate(-90)">Regression score1</text>
<text x="204.0" y="875.4" font-size="7" fill="#222" textLength="36.8" lengthAdjust="spacingAndGlyphs">Centroid Size</text>
<text x="435.5" y="679.5" font-size="2.6" fill="#4848c8">Male</text>
<text x="435.5" y="684.4" font-size="2.6" fill="#d04848">Female</text>
<ellipse cx="223.1" cy="757.3" rx="147.7" ry="54.2" transform="rotate(-15.48 223.1 757.3)" stroke="#9c9cd6" stroke-width="1.05" fill="none"/>
<ellipse cx="233.4" cy="768.1" rx="158.4" ry="55.6" transform="rotate(-15.90 233.4 768.1)" stroke="#9c9cd6" stroke-width="1.05" fill="none"/>
<circle cx="157.9" cy="735.8" r="1.25" fill="#cc1f3a"/>
<circle cx="132.8" cy="751.5" r="1.25" fill="#cc1f3a"/>
<circle cx="121.3" cy="764.2" r="1.25" fill="#cc1f3a"/>
<circle cx="145.9" cy="758.3" r="1.25" fill="#2424b4"/>
<circle cx="143.1" cy="766.4" r="1.25" fill="#cc1f3a"/>
<circle cx="190.6" cy="730.4" r="1.25" fill="#cc1f3a"/>
<circle cx="184.1" cy="744.1" r="1.25" fill="#cc1f3a"/>
<circle cx="193.5" cy="746.3" r="1.25" fill="#2424b4"/>
<circle cx="193.5" cy="760.3" r="1.25" fill="#2424b4"/>
<circle cx="186.3" cy="763.8" r="1.25" fill="#cc1f3a"/>
<circle cx="186.3" cy="767.0" r="1.25" fill="#cc1f3a"/>
<circle cx="169.3" cy="769.0" r="1.25" fill="#2424b4"/>
<circle cx="180.4" cy="769.0" r="1.25" fill="#2424b4"/>
<circle cx="80.5" cy="792.7" r="1.25" fill="#cc1f3a"/>
<circle cx="105.5" cy="779.6" r="1.25" fill="#cc1f3a"/>
<circle cx="109.9" cy="784.0" r="1.25" fill="#cc1f3a"/>
<circle cx="111.3" cy="800.4" r="1.25" fill="#cc1f3a"/>
<circle cx="123.5" cy="803.1" r="1.25" fill="#cc1f3a"/>
<circle cx="117.3" cy="817.8" r="1.25" fill="#2424b4"/>
<circle cx="150.0" cy="822.5" r="1.25" fill="#cc1f3a"/>
<circle cx="156.8" cy="832.5" r="1.25" fill="#2424b4"/>
<circle cx="160.9" cy="812.9" r="1.25" fill="#cc1f3a"/>
<circle cx="177.5" cy="818.9" r="1.25" fill="#2424b4"/>
<circle cx="147.8" cy="781.0" r="1.25" fill="#2424b4"/>
<circle cx="150.0" cy="778.5" r="1.25" fill="#cc1f3a"/>
<circle cx="152.7" cy="782.4" r="1.25" fill="#2424b4"/>
<circle cx="156.3" cy="784.0" r="1.25" fill="#2424b4"/>
<circle cx="159.5" cy="773.6" r="1.25" fill="#cc1f3a"/>
<circle cx="167.7" cy="782.4" r="1.25" fill="#cc1f3a"/>
<circle cx="170.7" cy="780.5" r="1.25" fill="#2424b4"/>
<circle cx="174.8" cy="781.3" r="1.25" fill="#2424b4"/>
<circle cx="181.9" cy="782.1" r="1.25" fill="#cc1f3a"/>
<circle cx="165.0" cy="790.0" r="1.25" fill="#2424b4"/>
<circle cx="193.9" cy="788.4" r="1.25" fill="#cc1f3a"/>
<circle cx="175.4" cy="801.2" r="1.25" fill="#cc1f3a"/>
<circle cx="189.0" cy="800.1" r="1.25" fill="#2424b4"/>
<circle cx="189.5" cy="803.1" r="1.25" fill="#cc1f3a"/>
<circle cx="211.9" cy="772.3" r="1.25" fill="#cc1f3a"/>
<circle cx="223.6" cy="776.9" r="1.25" fill="#2424b4"/>
<circle cx="220.9" cy="785.1" r="1.25" fill="#2424b4"/>
<circle cx="219.5" cy="790.5" r="1.25" fill="#2424b4"/>
<circle cx="203.2" cy="796.0" r="1.25" fill="#2424b4"/>
<circle cx="208.9" cy="798.7" r="1.25" fill="#2424b4"/>
<circle cx="215.2" cy="810.2" r="1.25" fill="#2424b4"/>
<circle cx="270.7" cy="690.5" r="1.25" fill="#cc1f3a"/>
<circle cx="322.0" cy="696.0" r="1.25" fill="#cc1f3a"/>
<circle cx="292.0" cy="701.5" r="1.25" fill="#cc1f3a"/>
<circle cx="315.4" cy="705.0" r="1.25" fill="#2424b4"/>
<circle cx="212.6" cy="724.6" r="1.25" fill="#cc1f3a"/>
<circle cx="220.8" cy="723.3" r="1.25" fill="#2424b4"/>
<circle cx="224.9" cy="719.5" r="1.25" fill="#cc1f3a"/>
<circle cx="226.8" cy="726.8" r="1.25" fill="#cc1f3a"/>
<circle cx="229.5" cy="730.4" r="1.25" fill="#2424b4"/>
<circle cx="201.5" cy="734.5" r="1.25" fill="#cc1f3a"/>
<circle cx="204.2" cy="733.1" r="1.25" fill="#cc1f3a"/>
<circle cx="222.2" cy="734.7" r="1.25" fill="#2424b4"/>
<circle cx="220.8" cy="741.0" r="1.25" fill="#cc1f3a"/>
<circle cx="245.9" cy="721.4" r="1.25" fill="#cc1f3a"/>
<circle cx="240.2" cy="730.4" r="1.25" fill="#2424b4"/>
<circle cx="247.3" cy="731.7" r="1.25" fill="#cc1f3a"/>
<circle cx="236.9" cy="735.8" r="1.25" fill="#2424b4"/>
<circle cx="235.3" cy="739.1" r="1.25" fill="#cc1f3a"/>
<circle cx="241.3" cy="739.1" r="1.25" fill="#2424b4"/>
<circle cx="241.0" cy="741.3" r="1.25" fill="#cc1f3a"/>
<circle cx="254.1" cy="733.6" r="1.25" fill="#2424b4"/>
<circle cx="265.0" cy="732.3" r="1.25" fill="#cc1f3a"/>
<circle cx="262.3" cy="735.5" r="1.25" fill="#2424b4"/>
<circle cx="283.5" cy="724.9" r="1.25" fill="#cc1f3a"/>
<circle cx="308.1" cy="721.4" r="1.25" fill="#2424b4"/>
<circle cx="273.4" cy="738.0" r="1.25" fill="#cc1f3a"/>
<circle cx="278.1" cy="739.4" r="1.25" fill="#cc1f3a"/>
<circle cx="207.2" cy="747.3" r="1.25" fill="#2424b4"/>
<circle cx="205.5" cy="748.6" r="1.25" fill="#cc1f3a"/>
<circle cx="201.5" cy="754.9" r="1.25" fill="#2424b4"/>
<circle cx="215.1" cy="753.5" r="1.25" fill="#cc1f3a"/>
<circle cx="238.5" cy="754.6" r="1.25" fill="#2424b4"/>
<circle cx="230.1" cy="759.8" r="1.25" fill="#cc1f3a"/>
<circle cx="250.5" cy="763.6" r="1.25" fill="#cc1f3a"/>
<circle cx="240.4" cy="765.8" r="1.25" fill="#cc1f3a"/>
<circle cx="227.6" cy="767.2" r="1.25" fill="#2424b4"/>
<circle cx="226.0" cy="769.1" r="1.25" fill="#cc1f3a"/>
<circle cx="226.3" cy="771.3" r="1.25" fill="#cc1f3a"/>
<circle cx="227.4" cy="774.0" r="1.25" fill="#2424b4"/>
<circle cx="232.8" cy="777.3" r="1.25" fill="#2424b4"/>
<circle cx="236.9" cy="774.5" r="1.25" fill="#2424b4"/>
<circle cx="243.2" cy="772.6" r="1.25" fill="#2424b4"/>
<circle cx="243.2" cy="775.4" r="1.25" fill="#2424b4"/>
<circle cx="235.0" cy="781.4" r="1.25" fill="#2424b4"/>
<circle cx="271.3" cy="754.1" r="1.25" fill="#cc1f3a"/>
<circle cx="286.8" cy="745.1" r="1.25" fill="#2424b4"/>
<circle cx="285.4" cy="750.5" r="1.25" fill="#2424b4"/>
<circle cx="282.2" cy="754.1" r="1.25" fill="#cc1f3a"/>
<circle cx="284.9" cy="757.4" r="1.25" fill="#cc1f3a"/>
<circle cx="301.3" cy="744.5" r="1.25" fill="#cc1f3a"/>
<circle cx="314.9" cy="747.3" r="1.25" fill="#cc1f3a"/>
<circle cx="308.9" cy="754.9" r="1.25" fill="#cc1f3a"/>
<circle cx="298.5" cy="757.4" r="1.25" fill="#cc1f3a"/>
<circle cx="302.4" cy="763.6" r="1.25" fill="#cc1f3a"/>
<circle cx="332.6" cy="761.4" r="1.25" fill="#cc1f3a"/>
<circle cx="265.0" cy="769.9" r="1.25" fill="#2424b4"/>
<circle cx="285.4" cy="776.4" r="1.25" fill="#cc1f3a"/>
<circle cx="301.8" cy="778.9" r="1.25" fill="#2424b4"/>
<circle cx="310.8" cy="777.3" r="1.25" fill="#2424b4"/>
<circle cx="271.0" cy="789.5" r="1.25" fill="#2424b4"/>
<circle cx="356.7" cy="700.3" r="1.25" fill="#2424b4"/>
<circle cx="368.7" cy="699.0" r="1.25" fill="#2424b4"/>
<circle cx="375.7" cy="703.6" r="1.25" fill="#cc1f3a"/>
<circle cx="349.7" cy="731.9" r="1.25" fill="#2424b4"/>
<circle cx="357.6" cy="737.2" r="1.25" fill="#2424b4"/>
<circle cx="349.3" cy="749.4" r="1.25" fill="#2424b4"/>
<circle cx="347.6" cy="751.4" r="1.25" fill="#cc1f3a"/>
<circle cx="371.4" cy="755.7" r="1.25" fill="#2424b4"/>
<circle cx="342.1" cy="767.3" r="1.25" fill="#2424b4"/>
<circle cx="257.6" cy="795.1" r="1.25" fill="#2424b4"/>
<circle cx="228.7" cy="795.1" r="1.25" fill="#2424b4"/>
<circle cx="326.4" cy="798.9" r="1.25" fill="#2424b4"/>
<circle cx="286.8" cy="822.6" r="1.25" fill="#2424b4"/>
<circle cx="225.5" cy="843.6" r="1.25" fill="#cc1f3a"/>
<circle cx="62.8" cy="813.5" r="1.25" fill="#2424b4"/>
<circle cx="28.5" cy="826.5" r="1.25" fill="#2424b4"/>
<text x="44.0" y="694.1" font-size="15.5" fill="#111" textLength="159.2" lengthAdjust="spacingAndGlyphs">Mandibular First Molar</text>
<path d="M353.3 807.4H543.5M353.3 833.4H543.5M353.3 859.2H543.5" stroke="#5f7dcc" stroke-width="1.5" fill="none"/>
<text x="357.3" y="820.9" font-size="13.2" fill="#111" font-weight="bold" textLength="75.4" lengthAdjust="spacingAndGlyphs">% predicted:</text>
<text x="357" y="846.7" font-size="13.2" fill="#111" font-weight="bold" textLength="43" lengthAdjust="spacingAndGlyphs"><tspan font-style="italic">P</tspan> value</text>
<text x="532.0" y="820.9" font-size="13.2" fill="#e01818" font-weight="bold" text-anchor="end" text-decoration="underline">2.34%</text>
<text x="533.0" y="846.7" font-size="13.2" fill="#e01818" font-weight="bold" text-anchor="end" text-decoration="underline">&lt;0.001</text>
<path d="M27.5 896.4V1068.5M27.5 1068.5H440.4" stroke="#9a9a9a" stroke-width="1" fill="none"/>
<path d="M26.0 910.4h1.5M26.0 936.8h1.5M26.0 963.2h1.5M26.0 989.4h1.5M26.0 1015.8h1.5M26.0 1042.2h1.5M26.0 1068.4h1.5M27.9 1068.5v1.5M110.4 1068.5v1.5M192.9 1068.5v1.5M275.4 1068.5v1.5M357.9 1068.5v1.5M440.4 1068.5v1.5" stroke="#777" stroke-width="0.6" fill="none"/>
<text x="25.5" y="911.8" font-size="3.9" fill="#707070" text-anchor="end">0.06</text>
<text x="25.5" y="938.2" font-size="3.9" fill="#707070" text-anchor="end">0.03</text>
<text x="25.5" y="964.6" font-size="3.9" fill="#707070" text-anchor="end">0.00</text>
<text x="25.5" y="990.8" font-size="3.9" fill="#707070" text-anchor="end">-0.03</text>
<text x="25.5" y="1017.2" font-size="3.9" fill="#707070" text-anchor="end">-0.06</text>
<text x="25.5" y="1043.6" font-size="3.9" fill="#707070" text-anchor="end">-0.09</text>
<text x="25.5" y="1069.8" font-size="3.9" fill="#707070" text-anchor="end">-0.12</text>
<text x="27.9" y="1074.1" font-size="3.9" fill="#707070" text-anchor="middle">30</text>
<text x="110.4" y="1074.1" font-size="3.9" fill="#707070" text-anchor="middle">32</text>
<text x="192.9" y="1074.1" font-size="3.9" fill="#707070" text-anchor="middle">34</text>
<text x="275.4" y="1074.1" font-size="3.9" fill="#707070" text-anchor="middle">36</text>
<text x="357.9" y="1074.1" font-size="3.9" fill="#707070" text-anchor="middle">38</text>
<text x="440.4" y="1074.1" font-size="3.9" fill="#707070" text-anchor="middle">40</text>
<text x="0" y="0" font-size="7.2" fill="#222" text-anchor="middle" textLength="52" lengthAdjust="spacingAndGlyphs" transform="translate(13.8 977.3) rotate(-90)">Regression score1</text>
<text x="215.0" y="1082.5" font-size="7" fill="#222" textLength="39.0" lengthAdjust="spacingAndGlyphs">Centroid Size</text>
<text x="461.2" y="874.3" font-size="2.6" fill="#4848c8">Male</text>
<text x="461.2" y="879.2" font-size="2.6" fill="#d04848">Female</text>
<ellipse cx="179.5" cy="966.0" rx="142.3" ry="54.3" transform="rotate(-15.33 179.5 966.0)" stroke="#9c9cd6" stroke-width="1.05" fill="none"/>
<ellipse cx="162.2" cy="960.2" rx="112.9" ry="42.2" transform="rotate(-20.16 162.2 960.2)" stroke="#d29ca4" stroke-width="1.05" fill="none"/>
<circle cx="155.3" cy="901.4" r="1.25" fill="#2424b4"/>
<circle cx="180.1" cy="909.5" r="1.25" fill="#cc1f3a"/>
<circle cx="151.7" cy="922.9" r="1.25" fill="#2424b4"/>
<circle cx="121.7" cy="931.9" r="1.25" fill="#cc1f3a"/>
<circle cx="176.8" cy="930.0" r="1.25" fill="#cc1f3a"/>
<circle cx="183.6" cy="928.6" r="1.25" fill="#cc1f3a"/>
<circle cx="100.4" cy="941.5" r="1.25" fill="#2424b4"/>
<circle cx="59.3" cy="951.8" r="1.25" fill="#2424b4"/>
<circle cx="75.1" cy="949.6" r="1.25" fill="#2424b4"/>
<circle cx="107.8" cy="944.2" r="1.25" fill="#cc1f3a"/>
<circle cx="114.1" cy="952.1" r="1.25" fill="#cc1f3a"/>
<circle cx="92.3" cy="958.9" r="1.25" fill="#cc1f3a"/>
<circle cx="149.8" cy="941.7" r="1.25" fill="#2424b4"/>
<circle cx="154.2" cy="942.8" r="1.25" fill="#cc1f3a"/>
<circle cx="168.1" cy="938.2" r="1.25" fill="#2424b4"/>
<circle cx="164.5" cy="944.2" r="1.25" fill="#2424b4"/>
<circle cx="169.2" cy="946.4" r="1.25" fill="#cc1f3a"/>
<circle cx="174.1" cy="946.4" r="1.25" fill="#cc1f3a"/>
<circle cx="182.3" cy="941.7" r="1.25" fill="#cc1f3a"/>
<circle cx="149.5" cy="949.6" r="1.25" fill="#cc1f3a"/>
<circle cx="167.8" cy="953.7" r="1.25" fill="#cc1f3a"/>
<circle cx="170.8" cy="956.4" r="1.25" fill="#cc1f3a"/>
<circle cx="145.4" cy="958.9" r="1.25" fill="#cc1f3a"/>
<circle cx="131.0" cy="960.0" r="1.25" fill="#cc1f3a"/>
<circle cx="144.9" cy="963.5" r="1.25" fill="#2424b4"/>
<circle cx="141.4" cy="966.0" r="1.25" fill="#cc1f3a"/>
<circle cx="169.4" cy="962.2" r="1.25" fill="#2424b4"/>
<circle cx="173.3" cy="963.3" r="1.25" fill="#cc1f3a"/>
<circle cx="176.5" cy="964.4" r="1.25" fill="#cc1f3a"/>
<circle cx="162.4" cy="963.3" r="1.25" fill="#cc1f3a"/>
<circle cx="159.6" cy="964.9" r="1.25" fill="#cc1f3a"/>
<circle cx="161.3" cy="968.2" r="1.25" fill="#cc1f3a"/>
<circle cx="156.1" cy="971.4" r="1.25" fill="#cc1f3a"/>
<circle cx="172.7" cy="970.4" r="1.25" fill="#cc1f3a"/>
<circle cx="176.3" cy="972.0" r="1.25" fill="#cc1f3a"/>
<circle cx="164.5" cy="973.6" r="1.25" fill="#2424b4"/>
<circle cx="111.4" cy="969.5" r="1.25" fill="#cc1f3a"/>
<circle cx="114.1" cy="971.4" r="1.25" fill="#cc1f3a"/>
<circle cx="116.8" cy="972.3" r="1.25" fill="#2424b4"/>
<circle cx="126.4" cy="972.3" r="1.25" fill="#2424b4"/>
<circle cx="140.5" cy="970.9" r="1.25" fill="#2424b4"/>
<circle cx="139.4" cy="975.0" r="1.25" fill="#cc1f3a"/>
<circle cx="103.2" cy="975.3" r="1.25" fill="#2424b4"/>
<circle cx="88.2" cy="981.3" r="1.25" fill="#cc1f3a"/>
<circle cx="96.6" cy="981.0" r="1.25" fill="#2424b4"/>
<circle cx="138.6" cy="983.7" r="1.25" fill="#cc1f3a"/>
<circle cx="149.5" cy="985.9" r="1.25" fill="#2424b4"/>
<circle cx="163.2" cy="986.7" r="1.25" fill="#cc1f3a"/>
<circle cx="180.1" cy="981.0" r="1.25" fill="#cc1f3a"/>
<circle cx="41.0" cy="985.1" r="1.25" fill="#2424b4"/>
<circle cx="69.9" cy="986.2" r="1.25" fill="#cc1f3a"/>
<circle cx="69.1" cy="992.7" r="1.25" fill="#2424b4"/>
<circle cx="47.8" cy="993.3" r="1.25" fill="#cc1f3a"/>
<circle cx="97.7" cy="991.9" r="1.25" fill="#cc1f3a"/>
<circle cx="97.7" cy="995.4" r="1.25" fill="#cc1f3a"/>
<circle cx="123.9" cy="998.2" r="1.25" fill="#2424b4"/>
<circle cx="161.3" cy="994.9" r="1.25" fill="#2424b4"/>
<circle cx="165.4" cy="996.8" r="1.25" fill="#2424b4"/>
<circle cx="53.3" cy="1003.3" r="1.25" fill="#cc1f3a"/>
<circle cx="83.5" cy="1011.7" r="1.25" fill="#cc1f3a"/>
<circle cx="100.4" cy="1016.6" r="1.25" fill="#cc1f3a"/>
<circle cx="84.1" cy="1023.7" r="1.25" fill="#2424b4"/>
<circle cx="109.2" cy="1007.9" r="1.25" fill="#cc1f3a"/>
<circle cx="117.4" cy="1004.6" r="1.25" fill="#2424b4"/>
<circle cx="122.5" cy="1005.5" r="1.25" fill="#2424b4"/>
<circle cx="133.4" cy="1002.5" r="1.25" fill="#2424b4"/>
<circle cx="137.0" cy="1001.9" r="1.25" fill="#cc1f3a"/>
<circle cx="153.1" cy="1010.1" r="1.25" fill="#2424b4"/>
<circle cx="171.4" cy="1004.1" r="1.25" fill="#2424b4"/>
<circle cx="179.5" cy="1015.0" r="1.25" fill="#2424b4"/>
<circle cx="180.6" cy="1019.1" r="1.25" fill="#2424b4"/>
<circle cx="99.9" cy="1050.4" r="1.25" fill="#2424b4"/>
<circle cx="278.6" cy="902.4" r="1.25" fill="#2424b4"/>
<circle cx="245.4" cy="907.3" r="1.25" fill="#cc1f3a"/>
<circle cx="247.0" cy="911.9" r="1.25" fill="#cc1f3a"/>
<circle cx="244.8" cy="914.9" r="1.25" fill="#cc1f3a"/>
<circle cx="213.7" cy="917.4" r="1.25" fill="#cc1f3a"/>
<circle cx="206.1" cy="926.6" r="1.25" fill="#cc1f3a"/>
<circle cx="209.4" cy="926.6" r="1.25" fill="#cc1f3a"/>
<circle cx="188.6" cy="938.6" r="1.25" fill="#cc1f3a"/>
<circle cx="195.2" cy="939.2" r="1.25" fill="#2424b4"/>
<circle cx="203.4" cy="938.6" r="1.25" fill="#2424b4"/>
<circle cx="215.4" cy="936.5" r="1.25" fill="#cc1f3a"/>
<circle cx="218.6" cy="938.1" r="1.25" fill="#cc1f3a"/>
<circle cx="202.8" cy="941.4" r="1.25" fill="#cc1f3a"/>
<circle cx="218.6" cy="941.9" r="1.25" fill="#cc1f3a"/>
<circle cx="199.0" cy="945.2" r="1.25" fill="#2424b4"/>
<circle cx="199.5" cy="948.7" r="1.25" fill="#2424b4"/>
<circle cx="227.4" cy="941.4" r="1.25" fill="#2424b4"/>
<circle cx="227.6" cy="944.1" r="1.25" fill="#2424b4"/>
<circle cx="242.1" cy="943.5" r="1.25" fill="#2424b4"/>
<circle cx="246.4" cy="947.1" r="1.25" fill="#2424b4"/>
<circle cx="253.8" cy="940.3" r="1.25" fill="#2424b4"/>
<circle cx="276.7" cy="934.8" r="1.25" fill="#2424b4"/>
<circle cx="284.1" cy="946.0" r="1.25" fill="#2424b4"/>
<circle cx="262.3" cy="950.1" r="1.25" fill="#2424b4"/>
<circle cx="185.4" cy="951.4" r="1.25" fill="#cc1f3a"/>
<circle cx="210.5" cy="950.6" r="1.25" fill="#cc1f3a"/>
<circle cx="208.5" cy="955.0" r="1.25" fill="#2424b4"/>
<circle cx="203.6" cy="955.8" r="1.25" fill="#2424b4"/>
<circle cx="194.6" cy="956.6" r="1.25" fill="#cc1f3a"/>
<circle cx="190.0" cy="959.1" r="1.25" fill="#2424b4"/>
<circle cx="228.2" cy="959.4" r="1.25" fill="#2424b4"/>
<circle cx="211.8" cy="964.0" r="1.25" fill="#2424b4"/>
<circle cx="185.4" cy="964.0" r="1.25" fill="#2424b4"/>
<circle cx="228.2" cy="968.1" r="1.25" fill="#2424b4"/>
<circle cx="187.8" cy="969.4" r="1.25" fill="#2424b4"/>
<circle cx="194.1" cy="972.2" r="1.25" fill="#2424b4"/>
<circle cx="196.0" cy="973.5" r="1.25" fill="#2424b4"/>
<circle cx="271.0" cy="961.8" r="1.25" fill="#cc1f3a"/>
<circle cx="273.2" cy="961.0" r="1.25" fill="#2424b4"/>
<circle cx="274.3" cy="969.2" r="1.25" fill="#2424b4"/>
<circle cx="243.2" cy="980.4" r="1.25" fill="#cc1f3a"/>
<circle cx="196.3" cy="991.8" r="1.25" fill="#cc1f3a"/>
<circle cx="198.2" cy="993.7" r="1.25" fill="#2424b4"/>
<circle cx="366.0" cy="907.5" r="1.25" fill="#2424b4"/>
<text x="46.8" y="897.4" font-size="15.5" fill="#111" textLength="180.0" lengthAdjust="spacingAndGlyphs">Mandibular Second Molar</text>
<path d="M353.3 1011.4H543.5M353.3 1037.4H543.5M353.3 1063.2H543.5" stroke="#5f7dcc" stroke-width="1.5" fill="none"/>
<text x="357.3" y="1024.9" font-size="13.2" fill="#111" font-weight="bold" textLength="75.4" lengthAdjust="spacingAndGlyphs">% predicted:</text>
<text x="357" y="1050.8" font-size="13.2" fill="#111" font-weight="bold" textLength="43" lengthAdjust="spacingAndGlyphs"><tspan font-style="italic">P</tspan> value</text>
<text x="532.0" y="1024.9" font-size="13.2" fill="#e01818" font-weight="bold" text-anchor="end" text-decoration="underline">3.00%</text>
<text x="533.0" y="1050.8" font-size="13.2" fill="#e01818" font-weight="bold" text-anchor="end" text-decoration="underline">&lt;0.001</text>
</svg>
</body></html>
